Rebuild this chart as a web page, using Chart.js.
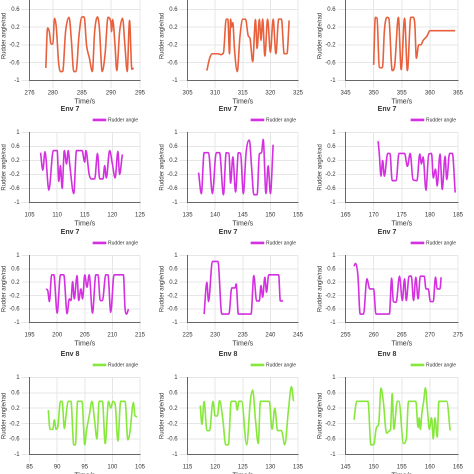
<!DOCTYPE html>
<html>
<head>
<meta charset="utf-8">
<script src="https://cdn.jsdelivr.net/npm/chart.js@4"></script>
<style>
  html, body { margin: 0; padding: 0; background: #fff; width: 474px; height: 474px; overflow: hidden; }
  .panel { position: absolute; }
</style>
</head>
<body>
<script>
// ---- data (time in s, rudder angle in rad) ----
const t1 = [278.8,279.1,279.4,279.7,280,280.3,280.6,281,281.3,281.7,282.2,282.8,283.2,283.6,284,284.5,285,285.4,285.8,286.3,286.8,287.2,287.7,288,288.5,289,289.5,290,290.1,290.3,290.7,291,291.5,292,292.4,292.8,293.2,293.6,293.9];
const v1 = [-0.72,0.18,0.1,-0.18,-0.18,0.4,0.2,-0.6,-0.8,-0.8,0.1,0.42,-0.1,-0.8,-0.8,0,0.43,0.43,-0.2,-0.5,-0.8,0.1,0.43,0.2,-0.8,-0.4,0.42,0.3,0.1,0.37,-0.2,-0.78,0.1,0.4,-0.2,-0.8,0.35,-0.75,-0.72];
const t2 = [308.5,309,309.5,310.5,311,311.5,312,312.3,312.6,312.8,313,313.2,313.5,314,314.5,315,315.5,316,316.3,316.8,317.3,317.6,318,318.3,318.6,319,319.5,320,320.5,321,321.5,322,322.5,323,323.4];
const v2 = [-0.78,-0.5,-0.4,-0.4,-0.42,-0.38,0.38,0.38,-0.4,0.38,0.2,0.3,-0.3,-0.8,0,0.38,0.38,0,-0.05,-0.58,0.37,-0.28,0.38,-0.1,0.38,-0.45,0.38,-0.37,0.38,-0.4,0.38,0.38,-0.4,-0.4,0.35];
const t3 = [350,350.3,350.6,351,351.4,351.6,351.9,352.4,352.7,353.3,353.7,354.4,354.9,355.5,356,356.6,357,357.3,357.6,358,358.4,358.8,359.5,360,362,364.5];
const v3 = [-0.65,0.42,0.4,-0.7,-0.72,-0.68,0.1,0.42,0.4,-0.78,-0.7,0.42,-0.76,0.4,-0.78,0.42,0.42,0.3,-0.5,-0.2,-0.2,-0.1,0,0.12,0.12,0.12];
const t4 = [107,107.4,107.8,108.5,109.3,110,110.3,110.6,110.9,111.3,111.7,112,112.3,113,113.5,114.5,115,115.2,115.8,116.2,116.8,117.3,117.7,118.3,118.6,118.9,119.5,120,120.5,121,121.3,121.8];
const v4 = [0.42,-0.08,0.45,-0.65,0.48,0.48,-0.4,0.05,-0.6,0.48,0.1,0.48,0.05,-0.75,0.48,0.48,0.15,0.48,-0.2,-0.33,-0.33,0.4,-0.33,-0.33,0.05,-0.3,0.48,0.1,-0.3,0.46,-0.2,0.37];
const t5 = [137,137.5,138,138.8,139.5,140.2,140.8,141.5,142,142.5,142.8,143.2,143.7,144.2,144.6,145.1,145.6,146.2,146.6,147,147.6,148,148.4,148.7,149.2,149.6,150,150.5];
const v5 = [-0.15,-0.75,0.42,0.42,-0.75,0.42,0.42,-0.78,0.42,0.4,-0.45,0.3,-0.7,0.42,0.4,-0.75,0.42,0.78,0,-0.78,-0.78,0.38,0.42,0.8,-0.75,0.05,-0.75,0.65];
const t6 = [170.8,171,171.3,171.6,171.9,172.5,172.9,173.3,174,174.5,175.5,176,176.5,177,177.7,178.2,178.5,178.8,179.3,179.8,180.3,180.6,181,181.3,181.8,182.2,182.7,183,183.5,184,184.5];
const v6 = [0.75,0.4,-0.25,0.2,-0.25,0.4,0.4,-0.38,-0.38,0.4,0.4,0.03,0.4,-0.35,-0.38,0.38,0.1,0.3,-0.65,0.38,0.4,-0.3,-0.05,-0.53,0.38,-0.63,0.32,-0.35,0.4,0.4,-0.72];
const t7 = [198,198.3,198.6,199,199.4,200,200.6,201.2,201.8,202.2,202.5,202.8,203.1,203.6,203.9,204.3,204.6,205,205.4,205.8,206.4,207,207.4,207.8,208.2,208.8,209.2,209.7,210.3,212,212.3,212.6,212.9];
const v7 = [0,-0.05,-0.38,0.42,0.42,-0.72,0.42,0.42,-0.74,-0.3,-0.35,0.22,-0.3,0.4,-0.35,0,-0.3,0.42,0.05,0.42,-0.72,0.42,0.42,-0.35,-0.35,0.42,0.42,-0.7,0.42,0.42,-0.6,-0.75,-0.6];
const t8 = [228,228.5,228.8,229.5,230.5,231.2,232.5,233,233.6,233.8,234.2,236.5,237,237.5,238,238.3,238.6,239,239.3,239.7,241.5,241.8,242.3];
const v8 = [-0.75,0.2,-0.38,0.82,0.82,-0.75,-0.75,0.03,0.03,0.15,-0.75,-0.75,0.4,-0.36,-0.36,0.1,-0.25,0.35,-0.1,0.42,0.42,-0.36,-0.36];
const t9 = [256.5,256.8,257.2,257.6,258.2,258.8,259.3,260,260.4,262.8,263.2,263.5,264,264.6,265.1,265.5,265.8,266.3,266.7,267.1,267.5,267.9,268.3,269,269.3,269.7,270.1,270.6,271,271.3,271.8,272];
const v9 = [0.68,0.76,0.4,-0.75,-0.75,0.3,0,0,-0.75,-0.75,0.32,-0.38,-0.4,0.38,-0.35,0.3,-0.35,0.38,0.38,-0.35,0.35,-0.3,0.38,0.38,0,0,-0.38,-0.38,0.35,0,0,0.35];
const t10 = [88.4,88.7,89.2,89.5,89.8,90.1,90.6,90.9,91.3,91.6,92,92.5,93,93.3,93.7,94.5,95,95.3,95.8,96.3,96.8,97.2,97.6,98.2,98.7,99.3,99.7,100.1,100.5,101,101.5,102.3,102.8,103.2,103.8,104.1,104.5];
const v10 = [0.15,-0.35,-0.35,-0.1,-0.35,-0.3,0.38,0.38,-0.33,0,0.38,0.38,-0.75,-0.75,0.38,0.38,-0.75,-0.4,0,0.38,-0.15,-0.6,0.38,0.38,-0.72,0.38,0.2,0.38,0.3,-0.65,0.38,0.38,-0.62,-0.4,0.35,0,-0.02];
const t11 = [117.3,117.6,118,118.5,119,119.6,120,120.4,120.8,121.4,121.9,122.4,122.9,123.7,124,124.3,124.8,125.7,126.4,126.8,127.3,127.8,128.2,129.8,130.3,130.8,131.3,132,132.6,133.3,133.8,134.2];
const v11 = [0.27,-0.22,0.38,-0.38,-0.38,0.38,0,0,0.4,-0.1,-0.75,-0.75,0.38,0.38,0.15,0.38,0.38,-0.75,0.42,0.67,-0.1,-0.72,0.38,0.38,-0.35,0.2,-0.38,-0.38,-0.75,0.2,0.76,0.38];
const t12 = [146.5,147,149,149.5,150,150.5,150.9,151.3,151.7,152.3,152.7,153,153.3,153.6,154.2,154.5,155.3,155.8,156.2,157.5,157.9,158.1,158.3,158.6,158.9,159.2,159.6,159.9,160.3,160.6,160.9,161.3,161.6,163,163.6];
const v12 = [-0.1,0.38,0.38,-0.75,-0.75,-0.3,-0.2,0.72,0.4,-0.45,-0.4,-0.35,0.58,-0.35,0.38,0.38,-0.72,-0.6,0.38,0.38,-0.3,-0.05,-0.35,0.1,0.38,0.73,0.1,-0.35,-0.05,-0.6,-0.05,-0.55,0.38,0.38,-0.38];

// x ranges per panel
const xRanges = [[276,295],[305,325],[345,365],[105,125],[135,155],[165,185],[195,215],[225,245],[255,275],[85,105],[115,135],[145,165]];
const titles = ['', '', '', 'Env 7', 'Env 7', 'Env 7', 'Env 7', 'Env 7', 'Env 7', 'Env 8', 'Env 8', 'Env 8'];

const times = [t1,t2,t3,t4,t5,t6,t7,t8,t9,t10,t11,t12];
const vals = [v1,v2,v3,v4,v5,v6,v7,v8,v9,v10,v11,v12];

const rowColors = ['#e8603c', '#d42fe0', '#d42fe0', '#86e83a'];
const rowBoxes = [[-14,120],[103,125],[226,122],[348,132]];
const colBoxes = [[0,146],[158,146],[316,148]];

Chart.defaults.font.family = 'Liberation Sans, Arial, sans-serif';
Chart.defaults.font.size = 6;
Chart.defaults.color = '#333';

for (let i = 0; i < 12; i++) {
  const row = Math.floor(i / 3), col = i % 3;
  const c = document.createElement('canvas');
  c.className = 'panel';
  c.style.left = colBoxes[col][0] + 'px';
  c.style.top = rowBoxes[row][0] + 'px';
  c.style.width = colBoxes[col][1] + 'px';
  c.style.height = rowBoxes[row][1] + 'px';
  document.body.appendChild(c);

  new Chart(c, {
    type: 'line',
    data: {
      datasets: [{
        label: 'Rudder angle',
        data: times[i].map((t, k) => ({ x: t, y: vals[i][k] })),
        borderColor: rowColors[row],
        borderWidth: 1.6,
        pointRadius: 0,
        cubicInterpolationMode: 'monotone'
      }]
    },
    options: {
      responsive: false,
      animation: false,
      devicePixelRatio: 2,
      layout: { padding: { right: 6, top: 2 } },
      plugins: {
        title: { display: !!titles[i], text: titles[i], padding: { top: 0, bottom: 2 }, font: { size: 7, weight: 'bold' } },
        legend: {
          display: row > 0,
          align: 'end',
          labels: { boxWidth: 12, boxHeight: 1, padding: 2, font: { size: 5 } }
        },
        tooltip: { enabled: false }
      },
      scales: {
        x: {
          type: 'linear',
          min: xRanges[i][0], max: xRanges[i][1],
          ticks: { stepSize: 5, padding: 1 },
          grid: { color: '#e6e6e6' },
          border: { color: '#666' },
          title: { display: true, text: 'Time/s', padding: 0, font: { size: 7 } }
        },
        y: {
          min: -1, max: 1,
          ticks: { stepSize: 0.2, padding: 2, callback: v => Math.abs(v) < 1e-9 ? '0' : +v.toFixed(1) },
          grid: { color: '#e6e6e6' },
          border: { color: '#666' },
          title: { display: true, text: 'Rudder angle/rad', padding: 0, font: { size: 6 } }
        }
      }
    }
  });
}
</script>
</body>
</html>
